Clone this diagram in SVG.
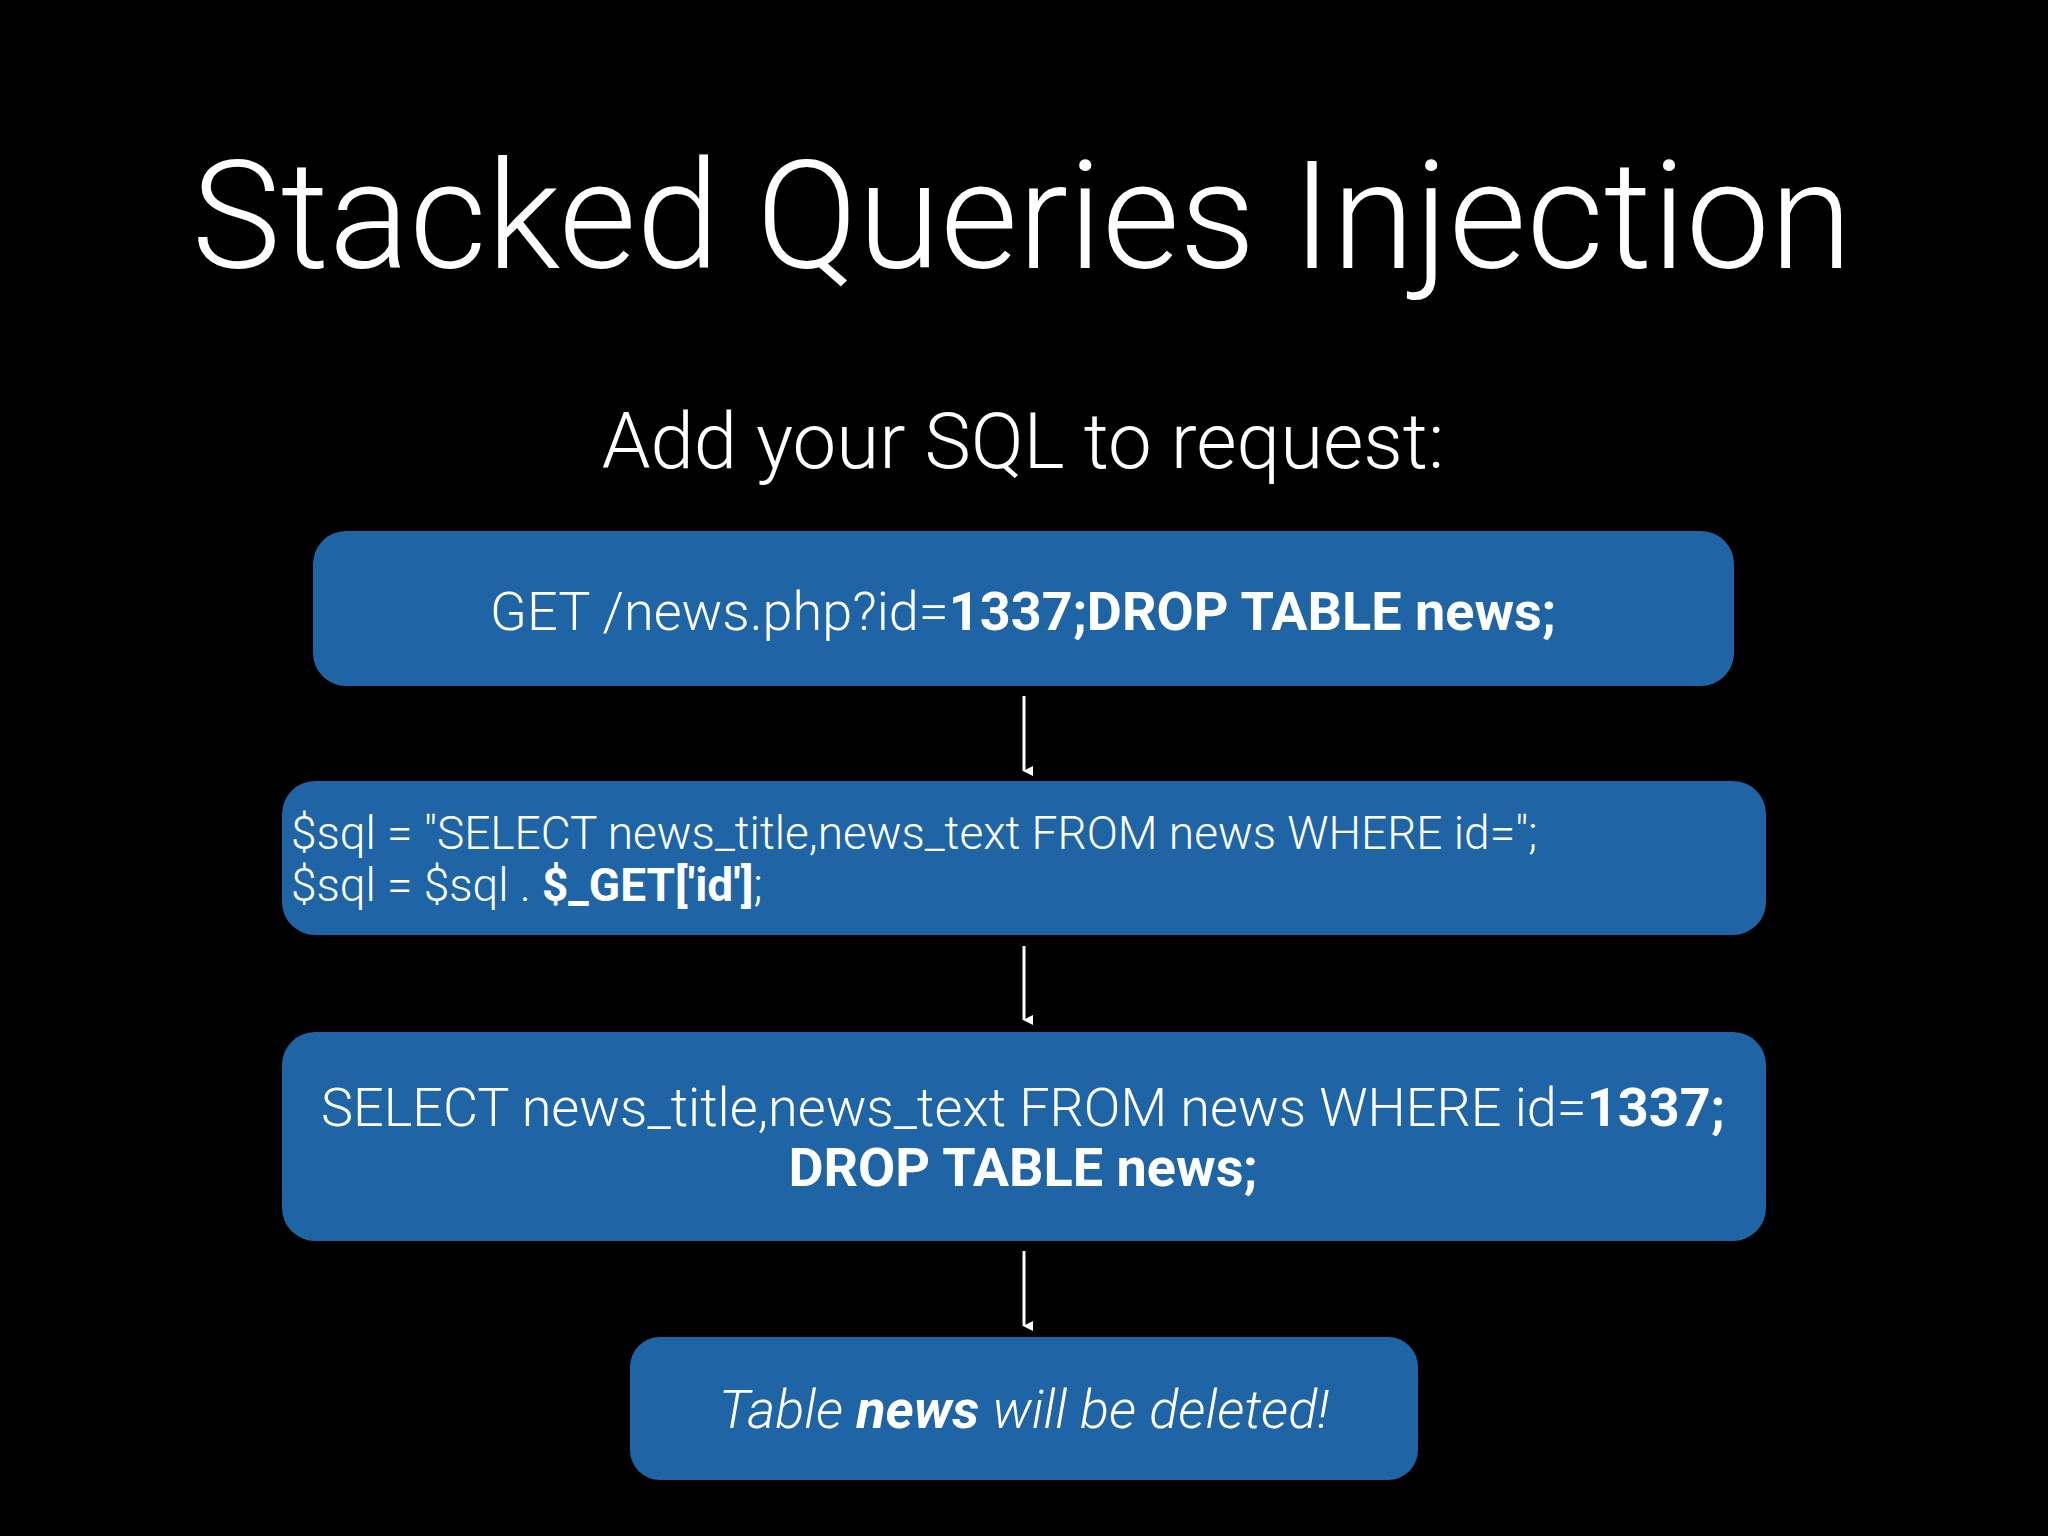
<svg xmlns="http://www.w3.org/2000/svg" width="2048" height="1536" viewBox="0 0 2048 1536">
<defs>
<style>
.t{font-family:Roboto,"Liberation Sans",sans-serif;font-weight:300;fill:#fff}
.b{font-weight:700}
.box{fill:#1f65a5}
.c{stroke:#fff;stroke-width:3;fill:none}
</style>
<marker id="ah" markerWidth="10" markerHeight="10" refX="5" refY="9" orient="auto" markerUnits="userSpaceOnUse" viewBox="0 0 10 10"><path d="M0,0 L10,0 L5,10 Z" fill="#fff"/></marker>
</defs>
<rect width="2048" height="1536" fill="#000"/>
<text class="t" x="1022" y="268" font-size="150" text-anchor="middle">Stacked Queries Injection</text>
<text class="t" x="1023" y="468" font-size="78" text-anchor="middle">Add your SQL to request:</text>
<g id="n1"><rect class="box" x="313" y="531" width="1421" height="155" rx="33"/>
<text class="t" x="1023" y="630" font-size="54" text-anchor="middle">GET /news.php?id=<tspan class="b">1337;DROP TABLE news;</tspan></text></g>
<g id="n2"><rect class="box" x="282" y="781" width="1484" height="154" rx="33"/>
<text class="t" x="291" y="849" font-size="46">$sql = "SELECT news_title,news_text FROM news WHERE id=";</text>
<text class="t" x="291" y="901" font-size="46">$sql = $sql . <tspan class="b">$_GET['id']</tspan>;</text></g>
<g id="n3"><rect class="box" x="282" y="1032" width="1484" height="209" rx="33"/>
<text class="t" x="1023" y="1126" font-size="54" text-anchor="middle">SELECT news_title,news_text FROM news WHERE id=<tspan class="b">1337;</tspan></text>
<text class="t b" x="1023" y="1186" font-size="54" text-anchor="middle">DROP TABLE news;</text></g>
<g id="n4"><rect class="box" x="630" y="1337" width="788" height="143" rx="30"/>
<text class="t" x="1024" y="1428" font-size="54" font-style="italic" text-anchor="middle">Table <tspan class="b">news</tspan> will be deleted!</text></g>
<g id="connectors">
<line class="c" x1="1024" y1="696" x2="1024" y2="771" marker-end="url(#ah)"/>
<line class="c" x1="1024" y1="946" x2="1024" y2="1020" marker-end="url(#ah)"/>
<line class="c" x1="1024" y1="1251" x2="1024" y2="1326" marker-end="url(#ah)"/>
</g>
</svg>
